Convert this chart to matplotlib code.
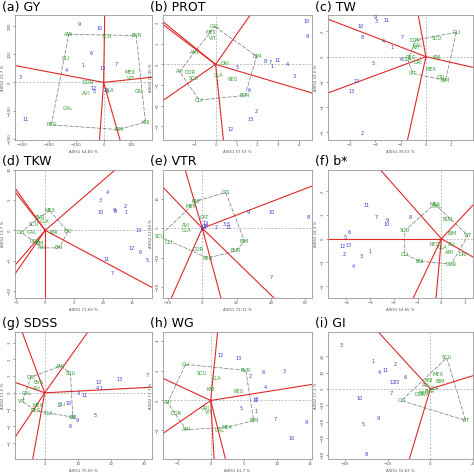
import matplotlib
matplotlib.use("Agg")
import matplotlib.pyplot as plt
import numpy as np

W, H = 474, 475

titles = ["(a) GY", "(b) PROT", "(c) TW", "(d) TKW", "(e) VTR", "(f) b*", "(g) SDSS", "(h) WG", "(i) GI"]
xlabels = ["AXIS1 54.83 %", "AXIS1 57.53 %", "AXIS1 39.57 %", "AXIS1 71.69 %", "AXIS1 72.11 %",
           "AXIS1 54.65 %", "AXIS1 75.03 %", "AXIS1 61.7 %", "AXIS1 59.63 %"]
ylabels = ["AXIS2 23.7 %", "AXIS2 16.46 %", "AXIS2 22.0 %", "AXIS2 13.7 %", "AXIS2 13.94 %",
           "AXIS2 18.3 %", "AXIS2 11.0 %", "AXIS2 17.7 %", "AXIS2 17.1 %"]

# genotype labels, x, y per panel
gen_a = {"9": (-88, 207), "10": (-15, 193), "6": (-45, 102), "1": (-75, 60), "4": (-136, 44), "13": (-2, 51),
         "7": (46, 63), "3": (-304, 17), "12": (-37, -20), "5": (-35, -32), "2": (7, -28), "8": (12, -32), "11": (-285, -132)}
env_a = {"AMI": (-128, 171), "SCU": (10, 163), "BVR": (119, 167), "OLI": (-139, 85), "MEX": (95, 37), "VIT": (101, 15),
         "DOR": (-57, -2), "AVI": (-66, -38), "CLA": (22, -28), "CRI": (131, -34), "GAL": (-130, -93), "REG": (-191, -151),
         "KNI": (153, -141), "BIM": (56, -168)}
hull_a = ["AMI", "BVR", "KNI", "BIM", "REG"]

gen_b = {"10": (4.37, 2.06), "9": (4.42, 1.37), "8": (2.39, 0.16), "7": (2.63, 0.08), "1": (2.73, -0.08), "11": (2.97, 0.18),
         "4": (3.47, 0), "3": (3.79, -0.6), "5": (1.06, -0.16), "6": (1.63, -1.27), "2": (1.98, -2.29), "13": (1.69, -2.66), "12": (0.74, -3.15)}
env_b = {"GAL": (-0.03, 1.82), "MEX": (-0.23, 1.55), "VIT": (-0.15, 1.27), "AMI": (-1.03, 0.58), "DRI": (0.45, 0.02),
         "AVI": (-1.73, -0.35), "DOR": (-1.24, -0.4), "SCU": (-1.03, -0.69), "CLA": (0.13, -0.53), "REG": (0.85, -0.71),
         "BIM": (1.98, 0.4), "BUR": (1.42, -1.5), "OLI": (-0.79, -1.73)}
hull_b = ["GAL", "BIM", "BUR", "OLI", "AVI", "AMI"]

gen_c = {"9": (-3.97, 3.08), "3": (-3.87, 2.76), "11": (-3.13, 2.84), "10": (-5.1, 2.37), "8": (-4.97, 1.53), "7": (-1.87, 1.53),
         "4": (-3.39, 1.18), "1": (-2.66, 0.76), "5": (-4.18, -0.58), "12": (-5.45, -1.97), "13": (-5.82, -2.76), "2": (-4.97, -6.05), "6": (-1.95, -0.2)}
env_c = {"OLI": (2.39, 1.92), "SCU": (0.87, 1.45), "DOR": (-0.82, 1.32), "GAL": (-0.63, 0.92), "AVI": (-0.82, 0.71),
         "REG": (-1.16, -0.08), "CLA": (-1.42, -0.26), "DRI": (-0.63, -0.47), "KNI": (0.87, -0.1), "MEX": (0.42, -1.05),
         "VIT": (-1.03, -1.32), "CRI": (1.21, -1.63), "BIM": (1.53, -1.89)}
hull_c = ["OLI", "BIM", "VIT", "CLA", "DOR"]

gen_d = {"4": (10.7, 6.3), "3": (9.5, 5), "10": (9.5, 3), "9": (11.9, 3.3), "8": (12.0, 3.2), "2": (13.8, 3.9), "1": (13.9, 3),
         "13": (16.1, -0.1), "12": (14.9, -3), "6": (16.3, -3.7), "5": (17.5, -5), "11": (10.5, -4.8), "7": (11.6, -7.2)}
env_d = {"MEX": (0.75, 3.3), "BVR": (-1, 2.1), "SCU": (-2, 1), "CLA": (-0.1, 1.55), "OLI": (-4.2, -0.3), "GAL": (-2.3, -0.3),
         "KNI": (1.4, -0.4), "CRI": (3.9, -0.2), "DOR": (-1.8, -1.9), "BIM": (-1, -2.1), "AVI": (-0.6, -2.9), "BAI": (2.4, -2.9)}
hull_d = ["MEX", "CRI", "BAI", "AVI", "DOR", "OLI", "BVR"]

gen_e = {"9": (26.8, 5.3), "10": (40.7, 5.4), "8": (61.8, 3.7), "5": (14.9, 1.3), "3": (12.8, 1.3), "11": (15.6, 0.2),
         "2": (8, 0.3), "7": (40, -16.6), "1": (1.1, 0.6), "4": (2.2, 1.0), "6": (0.2, -0.3), "12": (1.8, 1.6), "13": (0.8, 0.2)}
env_e = {"DIS": (13.7, 12.1), "KNF": (-3.4, 9.2), "MEX": (-6.4, 7.3), "CAT": (1.1, 3.6), "AVI": (-9.8, 0.9), "CLA": (-9.2, -0.6),
         "SCU": (-25, -2.8), "OLI": (-19.5, -4.7), "DOR": (-2.7, -7.1), "REG": (3.4, -10.1), "BUR": (19.5, -7.6), "BIM": (24.7, -4.5)}
hull_e = ["DIS", "BIM", "BUR", "REG", "SCU", "KNF"]

gen_f = {"11": (-3.13, 1.4), "7": (-2.73, 0.9), "9": (-2.29, 0.77), "10": (-2.31, 0.59), "8": (-1.29, 0.9), "6": (-3.86, 0.28),
         "5": (-4.04, 0.07), "12": (-4.17, -0.32), "13": (-3.9, -0.28), "1": (-3.02, -0.53), "2": (-4.1, -0.65), "3": (-3.39, -0.74), "4": (-3.69, -1.19)}
env_f = {"MEX": (-0.28, 1.46), "GAL": (-0.21, 1.36), "BUR": (0.28, 0.8), "BIM": (0.45, 0.21), "VIT": (1.12, 0.14),
         "SCU": (-1.54, 0.34), "REG": (-0.28, -0.25), "CLA": (0.07, -0.35), "AVI": (0.45, -0.25), "AMI": (0.35, -0.56),
         "DRI": (0.91, -0.65), "OLI": (-1.54, -0.65), "KNI": (-0.91, -0.95), "DOR": (0.42, -1.07)}
hull_f = ["MEX", "VIT", "DOR", "KNI", "OLI", "SCU"]

gen_g = {"7": (31, 1.04), "13": (22.7, 0.78), "12": (16.2, 0.64), "4": (16, 0.24), "1": (17, 0.24), "3": (10.3, -0.06),
         "11": (12, -0.16), "10": (7.3, -0.66), "2": (4.3, -0.76), "5": (15.3, -1.36), "9": (9.8, -1.66), "6": (7.8, -2.02), "8": (8.6, -1.5)}
env_g = {"AMI": (4.8, 1.6), "SCU": (7.8, 1.18), "DRI": (-4.2, 0.94), "BVR": (-1.7, 0.6), "AVI": (-2.5, 0.28), "OLI": (5.3, -0.7),
         "GAL": (-5.5, -0.06), "VIT": (-6.8, -0.52), "MEX": (-2.2, -0.76), "REG": (-2.7, -1.06), "CLA": (1.3, -1.22), "KNI": (8.5, -1.46)}
hull_g = ["AMI", "SCU", "KNI", "REG", "VIT", "DRI"]

gen_h = {"12": (1.56, 3.03), "13": (4.2, 2.8), "2": (5.9, 1.64), "6": (7.9, 1.91), "3": (11.1, 1.96), "4": (8.2, 0.85),
         "11": (6.8, 0.0), "8": (6.9, 0.05), "5": (4.6, -0.56), "1": (6.8, -0.72), "7": (9.7, -1.3), "9": (14.4, -1.46), "10": (12.3, -2.58)}
env_h = {"OLI": (-3.8, 2.43), "SCU": (-1.4, 1.84), "CLA": (0.94, 1.5), "BVR": (5.3, 2.02), "KNI": (0, 0.72), "REG": (4.2, 0.63),
         "AVI": (-6.5, -0.16), "DOR": (-5.2, -0.9), "GRI": (-0.8, -0.56), "VIT": (-0.2, -0.79), "AMI": (-3.7, -1.96),
         "GAL": (1.3, -2.02), "MEX": (2.5, -1.8), "BIM": (6.5, -1.35)}
hull_h = ["OLI", "BVR", "BIM", "MEX", "AMI", "AVI"]

gen_i = {"3": (-42, 26.3), "1": (-27, 16.7), "2": (-16.6, 15.1), "4": (-24, 9.8), "11": (-21.2, 11.2), "6": (-12, 6.7),
         "12": (-17.8, 3.7), "13": (-15.8, 3.7), "7": (-18.5, -2.9), "10": (-33, -6.1), "9": (-24.3, -18.2), "5": (-31.5, -21.6), "8": (-30, -39.8)}
env_i = {"SCU": (7.7, 19), "MEX": (3.4, 8.6), "KNI": (-0.9, 5.3), "BIM": (4.5, 4.7), "AVI": (-2.3, 2), "CLA": (1.8, 0.4),
         "DOR": (-5, -3.5), "BVR": (-0.5, -1.5), "REG": (-3, -2.5), "OLI": (-13.5, -7.1), "VIT": (16.5, -19.2)}
hull_i = ["SCU", "VIT", "OLI"]

xlims = [(-324, 177), (-2.53, 4.64), (-7.7, 3.7), (-5.2, 18.4), (-22.9, 64), (-4.77, 1.33), (-9, 32.5), (-7.2, 15.3), (-48, 18.8)]
ylims = [(-205, 240), (-3.66, 2.39), (-6.6, 3.3), (-11.2, 10), (-23.6, 19.7), (-2.5, 2.9), (-3.96, 3.64), (-3.93, 4.6), (-42.7, 34.7)]
xticks = [[-300, -200, -100, 0, 100], [-1, 0, 1, 2, 3, 4], [-6, -4, -2, 0, 2], [-5, 0, 5, 10, 15], [-20, 0, 20, 40, 60],
          [-4, -3, -2, -1, 0, 1], [0, 10, 20, 30], [-5, 0, 5, 10, 15], [-40, -20, 0, 20]]
yticks = [[-200, -100, 0, 100, 200], [-3, -2, -1, 0, 1, 2], [-6, -4, -2, 0, 2], [-10, -5, 0, 5, 10], [-20, -10, 0, 10],
          [-2, -1, 0, 1, 2], [-3, -2, -1, 0, 1, 2, 3], [-2, 0, 2, 4], [-40, -30, -20, -10, 0, 10, 20]]

gens = [gen_a, gen_b, gen_c, gen_d, gen_e, gen_f, gen_g, gen_h, gen_i]
envs = [env_a, env_b, env_c, env_d, env_e, env_f, env_g, env_h, env_i]
hulls = [hull_a, hull_b, hull_c, hull_d, hull_e, hull_f, hull_g, hull_h, hull_i]

# axes rectangles in pixels (left, top, right, bottom)
cols = [(15, 152), (163, 312), (328, 473)]
rows = [(15, 140), (170, 298), (332, 459)]

fig = plt.figure(figsize=(W / 100, H / 100), dpi=100)
BLUE = "#3a3acf"
GREEN = "#2e9a2e"
RED = "#e02828"

for k in range(9):
    r, c = divmod(k, 3)
    l, rr = cols[c]
    t, b = rows[r]
    ax = fig.add_axes([l / W, 1 - b / H, (rr - l) / W, (b - t) / H])
    ax.set_xlim(*xlims[k]); ax.set_ylim(*ylims[k])
    ax.axhline(0, color="#aaaaaa", lw=0.5, ls=(0, (3, 2)))
    ax.axvline(0, color="#aaaaaa", lw=0.5, ls=(0, (3, 2)))
    for name, (x, y) in gens[k].items():
        ax.text(x, y, name, color=BLUE, fontsize=3.6, ha="center", va="center")
    for name, (x, y) in envs[k].items():
        ax.text(x, y, name, color=GREEN, fontsize=3.6, ha="center", va="center")
    env = envs[k]
    pts = [env[n] for n in hulls[k]]
    hx = [p[0] for p in pts] + [pts[0][0]]
    hy = [p[1] for p in pts] + [pts[0][1]]
    ax.plot(hx, hy, color="#777777", lw=0.5, ls=(0, (6, 2)))
    # rays perpendicular to hull edges in display space
    fig.canvas.draw()
    T = ax.transData
    o = T.transform((0, 0))
    for i in range(len(pts)):
        p = T.transform(pts[i]) - o
        q = T.transform(pts[(i + 1) % len(pts)]) - o
        e = q - p
        n = np.array([-e[1], e[0]])
        n = n / np.linalg.norm(n)
        if np.dot(n, p) < 0:
            n = -n
        end = o + n * 400
        d_end = T.inverted().transform(end)
        ax.plot([0, d_end[0]], [0, d_end[1]], color=RED, lw=0.8)
    ax.set_xlim(*xlims[k]); ax.set_ylim(*ylims[k])
    ax.set_xticks(xticks[k]); ax.set_yticks(yticks[k])
    ax.tick_params(labelsize=2.8, length=1.5, width=0.4, pad=1, colors="#555555")
    for tl in ax.get_yticklabels():
        tl.set_rotation(90); tl.set_va("center")
    for s in ax.spines.values():
        s.set_color("#999999"); s.set_linewidth(0.6)
    ax.set_xlabel(xlabels[k], fontsize=2.8, labelpad=2, color="#555555")
    ax.set_ylabel(ylabels[k], fontsize=2.8, labelpad=2, color="#555555")
    fig.text((l - 13) / W, 1 - (t - 8) / H, titles[k], fontsize=9, ha="left", va="center")

fig.savefig("out.png", dpi=100)
